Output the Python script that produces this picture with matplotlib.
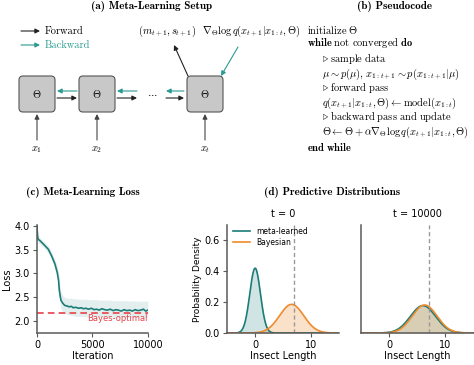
import numpy as np
import matplotlib
matplotlib.use('Agg')
import matplotlib.pyplot as plt
from matplotlib.patches import FancyBboxPatch

plt.rcParams['mathtext.fontset'] = 'cm'
plt.rcParams['font.family'] = 'DejaVu Sans'

teal = '#1b7c78'
teal_arrow = '#2a9a90'
orange = '#ef8a2c'
red = '#e8414a'
spine_col = '#5a5a5a'

# (c) meta-learning loss
iters = [0, 50, 100, 270, 570, 1020, 1320, 1620, 1830, 1950,
         2010, 2100, 2160, 2310, 2500, 2670, 2900, 3100, 3270, 3500,
         3750, 4000, 4170, 4400, 4650, 4900, 5150, 5380, 5600, 5850,
         6100, 6350, 6600, 6880, 7100, 7350, 7600, 7850, 8100, 8380,
         8600, 8850, 9100, 9350, 9600, 9800, 10000]
loss = [4.0, 3.80, 3.72, 3.69, 3.62, 3.51, 3.37, 3.20, 3.02, 2.85,
        2.66, 2.52, 2.44, 2.38, 2.33, 2.32, 2.30, 2.31, 2.28, 2.29,
        2.27, 2.28, 2.26, 2.27, 2.25, 2.27, 2.24, 2.25, 2.23, 2.26,
        2.24, 2.23, 2.25, 2.22, 2.24, 2.23, 2.21, 2.24, 2.22, 2.23,
        2.21, 2.24, 2.22, 2.23, 2.25, 2.21, 2.23]
band_hi = [4.0, 3.88, 3.8, 3.75, 3.68, 3.58, 3.45, 3.30, 3.15, 3.02,
           2.88, 2.72, 2.62, 2.54, 2.50, 2.49, 2.48, 2.48, 2.47, 2.47,
           2.46, 2.46, 2.46, 2.46, 2.45, 2.45, 2.45, 2.45, 2.44, 2.44,
           2.44, 2.44, 2.44, 2.43, 2.43, 2.43, 2.43, 2.43, 2.43, 2.42,
           2.42, 2.42, 2.42, 2.42, 2.42, 2.42, 2.42]
band_lo = [4.0, 3.74, 3.64, 3.62, 3.55, 3.43, 3.28, 3.10, 2.90, 2.72,
           2.50, 2.36, 2.27, 2.20, 2.16, 2.14, 2.13, 2.12, 2.11, 2.10,
           2.10, 2.10, 2.10, 2.09, 2.09, 2.09, 2.09, 2.09, 2.09, 2.09,
           2.09, 2.09, 2.08, 2.08, 2.08, 2.08, 2.08, 2.08, 2.08, 2.08,
           2.08, 2.08, 2.08, 2.08, 2.08, 2.08, 2.08]
bayes_optimal = 2.18

# (d) predictive distributions (gaussian mean / sd per time step)
t_labels = ['t = 0', 't = 10000']
meta_mu = [0.0, 6.0]
meta_sd = [0.95, 2.25]
bayes_mu = [6.5, 6.3]
bayes_sd = [2.15, 2.2]
true_length = 7.0

fig = plt.figure(figsize=(4.74, 3.65), dpi=100)

# canvas in pixel coords for the diagram + text panels
cv = fig.add_axes([0, 0, 1, 1])
cv.set_xlim(0, 474)
cv.set_ylim(365, 0)
cv.axis('off')

title_kw = dict(family='cmb10', fontsize=8, ha='center', va='center')
cv.text(152, 6, '(a) Meta-Learning Setup', **title_kw)
cv.text(395, 6, '(b) Pseudocode', **title_kw)
cv.text(83, 192, '(c) Meta-Learning Loss', **title_kw)
cv.text(332, 192, '(d) Predictive Distributions', **title_kw)

TH = r'\boldsymbol{\Theta}'


def arrow(p0, p1, col='#222222'):
    cv.annotate('', xy=p1, xytext=p0,
                arrowprops=dict(arrowstyle='-|>', color=col, lw=0.8,
                                mutation_scale=7, shrinkA=0, shrinkB=0))


# legend of the diagram
arrow((21, 31), (40, 31))
cv.text(45, 31, 'Forward', family='cmr10', fontsize=7.5, va='center')
arrow((21, 45), (40, 45), teal_arrow)
cv.text(45, 45, 'Backward', family='cmr10', fontsize=7.5, va='center', color=teal_arrow)

# boxes
for cx, lab in zip([37, 97, 205], ['1', '2', 't']):
    cv.add_patch(FancyBboxPatch((cx - 16.5, 77.5), 33, 33,
                                boxstyle='round,pad=1.5,rounding_size=4',
                                fc='#c8c8c8', ec='#555555', lw=0.8))
    cv.text(cx, 94, '$' + TH + '$', fontsize=7.5, ha='center', va='center')
    arrow((cx, 140), (cx, 114), '#444444')
    cv.text(cx, 150, r'$x_{%s}$' % lab, fontsize=7.5, ha='center', va='center')

for a, b in [(57, 77), (117, 137), (166, 184)]:
    arrow((a, 98), (b, 98))
    arrow((b, 91), (a, 91), teal_arrow)
cv.text(152, 94, r'$\cdots$', fontsize=7.5, ha='center', va='center')

arrow((188, 76), (174, 45))
cv.text(167, 31, r'$(m_{t+1}, s_{t+1})$', fontsize=7.5, ha='center', va='center')
arrow((238, 47), (221, 76), teal_arrow)
cv.text(202, 31, r'$\nabla_{%s} \log q(x_{t+1}|x_{1:t}, %s)$' % (TH, TH),
        fontsize=7.5, ha='left', va='center')

# pseudocode
code = [
    (307, 30, r'$\mathrm{initialize}\ %s$' % TH),
    (307, 43, r'$\mathbf{while}\ \mathrm{not\ converged}\ \mathbf{do}$'),
    (322, 59, r'$\triangleright\ \mathrm{sample\ data}$'),
    (322, 74, r'$\mu \sim p(\mu),\, x_{1:t+1} \sim p(x_{1:t+1}|\mu)$'),
    (322, 88, r'$\triangleright\ \mathrm{forward\ pass}$'),
    (322, 103, r'$q(x_{t+1}|x_{1:t}, %s) \leftarrow \mathrm{model}(x_{1:t})$' % TH),
    (322, 117, r'$\triangleright\ \mathrm{backward\ pass\ and\ update}$'),
    (322, 132, r'$%s \leftarrow %s + \alpha\nabla_{%s}\log q(x_{t+1}|x_{1:t}, %s)$'
               % (TH, TH, TH, TH)),
    (307, 147, r'$\mathbf{end\ while}$'),
]
for x, y, s in code:
    cv.text(x, y, s, fontsize=7.5, ha='left', va='center')


def style(ax):
    for s in ['top', 'right']:
        ax.spines[s].set_visible(False)
    for s in ['left', 'bottom']:
        ax.spines[s].set_color(spine_col)
        ax.spines[s].set_linewidth(1.1)
    ax.tick_params(labelsize=7, length=3, width=0.8, color=spine_col, pad=2)
    ax.set_facecolor('none')


# (c) loss
ax = fig.add_axes([0.078, 0.0877, 0.234, 0.296])
ax.fill_between(iters, band_lo, band_hi, color=teal, alpha=0.12, lw=0)
ax.plot(iters, loss, color=teal, lw=1.2)
ax.axhline(bayes_optimal, color=red, ls='--', lw=1.2, dashes=(4, 2.5))
ax.text(10000, bayes_optimal - 0.03, 'Bayes-optimal', color=red, fontsize=6,
        ha='right', va='top')
ax.set_xlim(0, 10000)
ax.set_ylim(1.75, 4.02)
ax.set_yticks([2.0, 2.5, 3.0, 3.5, 4.0])
ax.set_xticks([0, 5000, 10000])
ax.set_xlabel('Iteration', fontsize=7, labelpad=1)
ax.set_ylabel('Loss', fontsize=7, labelpad=2)
style(ax)

# (d) distributions
xs = np.linspace(-5, 15, 400)
lefts = [0.479, 0.762]
for i in range(2):
    ax = fig.add_axes([lefts[i], 0.0877, 0.237, 0.296])
    pm = np.exp(-0.5 * ((xs - meta_mu[i]) / meta_sd[i]) ** 2) / (meta_sd[i] * np.sqrt(2 * np.pi))
    pb = np.exp(-0.5 * ((xs - bayes_mu[i]) / bayes_sd[i]) ** 2) / (bayes_sd[i] * np.sqrt(2 * np.pi))
    ax.fill_between(xs, 0, pm, color=teal, alpha=0.2, lw=0)
    ax.fill_between(xs, 0, pb, color=orange, alpha=0.25, lw=0)
    ax.plot(xs, pm, color=teal, lw=1.2, label='meta-learned')
    ax.plot(xs, pb, color=orange, lw=1.2, label='Bayesian')
    ax.axvline(true_length, color='#999999', ls='--', lw=1.0, dashes=(3, 2))
    ax.set_xlim(-5, 15)
    ax.set_ylim(0, 0.7)
    ax.set_xticks([0, 10])
    ax.set_xlabel('Insect Length', fontsize=7, labelpad=1)
    ax.set_title(t_labels[i], fontsize=7, pad=6)
    style(ax)
    if i == 0:
        ax.set_yticks([0.0, 0.2, 0.4, 0.6])
        ax.set_ylabel('Probability Density', fontsize=6.5, labelpad=2)
        ax.legend(loc='upper left', fontsize=5.5, frameon=False, handlelength=2.2,
                  borderaxespad=0.1, labelspacing=0.3, bbox_to_anchor=(0.02, 1.02))
    else:
        ax.set_yticks([])
        ax.tick_params(axis='y', length=0)

fig.savefig('out.png', dpi=100)
